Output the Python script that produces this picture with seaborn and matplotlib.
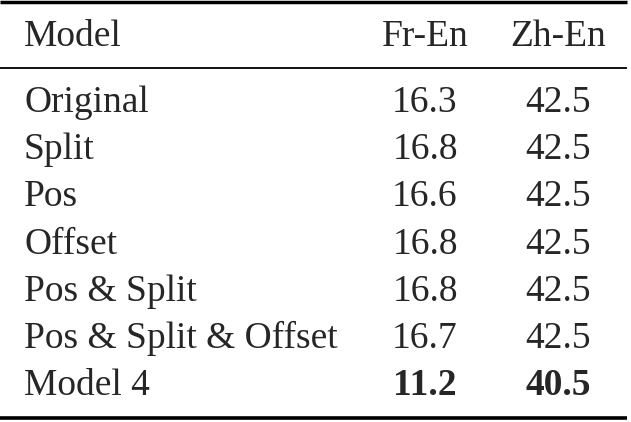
import matplotlib
matplotlib.use("Agg")
import matplotlib.pyplot as plt
import seaborn as sbn
import pandas as pd

# donnees du tableau
models = ["Original", "Split", "Pos", "Offset", "Pos & Split",
          "Pos & Split & Offset", "Model 4"]
fr_en = [16.3, 16.8, 16.6, 16.8, 16.8, 16.7, 11.2]
zh_en = [42.5, 42.5, 42.5, 42.5, 42.5, 42.5, 40.5]
headers = ["Model", "Fr-En", "Zh-En"]
best_row = "Model 4"

df = pd.DataFrame({"Model": models, "Fr-En": fr_en, "Zh-En": zh_en})

sbn.set_theme(style="white")
plt.rcParams["font.family"] = ["Liberation Serif", "DejaVu Serif"]

fig = plt.figure(figsize=(6.31, 4.22), dpi=100)
ax = fig.add_axes([0, 0, 1, 1])
ax.set_xlim(0, 631)
ax.set_ylim(422, 0)
ax.axis("off")

fs = 27
col_x = {"Model": 24, "Fr-En": 425, "Zh-En": 558}

# en-tete
ax.text(col_x["Model"], 46, headers[0], fontsize=fs, va="baseline", ha="left")
ax.text(col_x["Fr-En"], 46, headers[1], fontsize=fs, va="baseline", ha="center")
ax.text(col_x["Zh-En"], 46, headers[2], fontsize=fs, va="baseline", ha="center")

# lignes
y0, dy = 112, 47.2
for i, row in df.iterrows():
    y = y0 + i * dy
    w = "bold" if row["Model"] == best_row else "normal"
    ax.text(col_x["Model"], y, row["Model"], fontsize=fs, va="baseline", ha="left")
    ax.text(col_x["Fr-En"], y, f"{row['Fr-En']:.1f}", fontsize=fs, va="baseline",
            ha="center", fontweight=w)
    ax.text(col_x["Zh-En"], y, f"{row['Zh-En']:.1f}", fontsize=fs, va="baseline",
            ha="center", fontweight=w)

# filets
ax.plot([0, 627], [1.6, 1.6], color="black", lw=2.5, solid_capstyle="butt")
ax.plot([0, 627], [68, 68], color="black", lw=1.3, solid_capstyle="butt")
ax.plot([0, 627], [418, 418], color="black", lw=2.6, solid_capstyle="butt")

fig.savefig("out.png", dpi=100)
